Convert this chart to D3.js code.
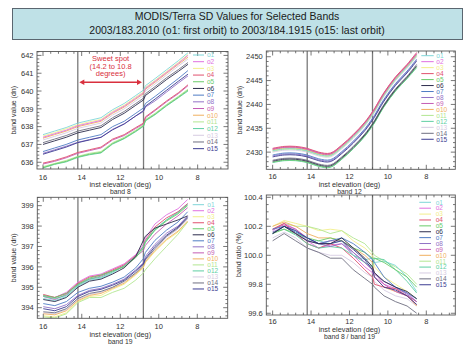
<!DOCTYPE html>
<html><head><meta charset="utf-8">
<script src="https://cdn.jsdelivr.net/npm/d3@7"></script>
<style>html,body{margin:0;padding:0;background:#fff;}svg{display:block;}</style>
</head><body>
<svg id="c" width="474" height="355"></svg>
<script>
// ---------- DATA ----------
const orbits = ["o1","o2","o3","o4","o5","o6","o7","o8","o9","o10","o11","o12","o13","o14","o15"];
const orbitColors = ["#7fd6d8","#e070e0","#f2ee8a","#e0506e","#6acb6a","#2c2c4c","#4f7cc4","#9272c6","#c45cb4","#f0b060","#b2e692","#5ecfa2","#d6cce2","#6e6e80","#3c3c92"];
const elev = [16, 15.4, 14.8, 14.2, 13.6, 13, 12.4, 11.8, 11.2, 10.8, 10.7, 10.2, 9.6, 9, 8.5];
const xTicks = [16, 14, 12, 10, 8];
const sweetSpot = [14.2, 10.8];

const band8 = [
 [637.55,637.75,637.95,638.2,638.35,638.5,638.95,639.3,639.75,640.05,640.3,640.7,641.2,641.7,642.15],
 [637.4,637.6,637.8,638.05,638.2,638.35,638.8,639.15,639.6,639.9,640.15,640.55,641.05,641.55,642.0],
 [637.47,637.66,637.88,638.1,638.27,638.4,638.86,639.2,639.66,639.95,640.2,640.6,641.1,641.6,642.05],
 [635.95,636.1,636.3,636.55,636.7,636.85,637.3,637.55,637.95,638.2,638.55,638.95,639.45,639.9,640.35],
 [635.7,635.9,636.05,636.3,636.45,636.55,637.05,637.35,637.75,638.05,638.35,638.7,639.2,639.65,640.05],
 [637.0,637.2,637.4,637.65,637.8,637.95,638.4,638.75,639.2,639.5,639.75,640.15,640.65,641.1,641.5],
 [636.6,636.8,637.0,637.25,637.4,637.55,638.0,638.3,638.75,639.05,639.3,639.7,640.2,640.7,641.15],
 [636.5,636.7,636.9,637.12,637.27,637.4,637.85,638.15,638.6,638.85,639.1,639.45,639.95,640.45,640.85],
 [635.9,636.05,636.25,636.5,636.65,636.8,637.25,637.5,637.9,638.15,638.5,638.9,639.4,639.85,640.3],
 [637.35,637.55,637.75,638.0,638.15,638.3,638.75,639.1,639.55,639.85,640.1,640.5,641.0,641.5,641.9],
 [635.75,635.93,636.1,636.33,636.5,636.6,637.1,637.4,637.8,638.1,638.4,638.75,639.25,639.7,640.1],
 [635.68,635.88,636.02,636.27,636.42,636.52,637.02,637.32,637.72,638.02,638.32,638.67,639.17,639.62,640.0],
 [637.25,637.45,637.65,637.9,638.05,638.2,638.65,639.0,639.45,639.75,640.0,640.4,640.9,641.4,641.8],
 [637.1,637.3,637.5,637.75,637.9,638.05,638.5,638.85,639.3,639.6,639.85,640.25,640.75,641.2,641.6],
 [636.45,636.65,636.85,637.1,637.25,637.4,637.82,638.15,638.6,638.9,639.15,639.55,640.05,640.55,640.95]
];
const band12 = [
 [2430.3,2430.7,2430.7,2430.3,2429.5,2429.3,2431.0,2433.2,2435.8,2438.0,2438.6,2442.0,2445.3,2447.9,2450.3],
 [2430.7,2431.1,2431.1,2430.7,2429.9,2429.7,2431.4,2433.6,2436.2,2438.4,2439.0,2442.4,2445.7,2448.3,2450.7],
 [2430.4,2430.8,2430.8,2430.4,2429.6,2429.4,2431.1,2433.3,2435.9,2438.1,2438.7,2442.1,2445.4,2448.0,2450.4],
 [2430.8,2431.2,2431.2,2430.8,2430.0,2429.8,2431.5,2433.7,2436.3,2438.5,2439.1,2442.5,2445.8,2448.4,2450.9],
 [2427.9,2428.3,2428.3,2427.9,2427.1,2426.9,2428.6,2430.8,2433.4,2435.6,2436.2,2439.6,2442.9,2445.5,2447.9],
 [2428.1,2428.5,2428.5,2428.1,2427.3,2427.1,2428.8,2431.0,2433.6,2435.8,2436.4,2439.8,2443.1,2445.7,2448.1],
 [2429.4,2429.8,2429.8,2429.4,2428.6,2428.4,2430.1,2432.3,2434.9,2437.1,2437.7,2441.1,2444.4,2447.0,2449.5],
 [2429.2,2429.6,2429.6,2429.2,2428.4,2428.2,2429.9,2432.1,2434.7,2436.9,2437.5,2440.9,2444.2,2446.8,2449.3],
 [2430.6,2431.0,2431.0,2430.6,2429.8,2429.6,2431.3,2433.5,2436.1,2438.3,2438.9,2442.3,2445.6,2448.2,2450.6],
 [2430.5,2430.9,2430.9,2430.5,2429.7,2429.5,2431.2,2433.4,2436.0,2438.2,2438.8,2442.2,2445.5,2448.1,2450.5],
 [2430.2,2430.6,2430.6,2430.2,2429.4,2429.2,2430.9,2433.1,2435.7,2437.9,2438.5,2441.9,2445.2,2447.8,2450.2],
 [2427.8,2428.2,2428.2,2427.8,2427.0,2426.8,2428.5,2430.7,2433.3,2435.5,2436.1,2439.5,2442.8,2445.4,2447.7],
 [2430.0,2430.4,2430.4,2430.0,2429.2,2429.0,2430.7,2432.9,2435.5,2437.7,2438.3,2441.7,2445.0,2447.6,2450.0],
 [2428.3,2428.7,2428.7,2428.3,2427.5,2427.3,2429.0,2431.2,2433.8,2436.0,2436.6,2440.0,2443.3,2445.9,2448.4],
 [2429.0,2429.4,2429.4,2429.0,2428.2,2428.0,2429.7,2431.9,2434.5,2436.7,2437.3,2440.7,2444.0,2446.6,2449.1]
];
const band19 = [
 [394.45,394.35,394.55,395.05,395.35,395.45,395.7,396.05,396.55,396.95,397.2,397.8,398.3,398.7,399.1],
 [394.6,394.5,394.75,395.25,395.55,395.65,395.9,396.15,396.6,397.1,397.4,398.1,398.55,398.85,399.3],
 [393.6,393.55,393.75,394.3,394.55,394.6,394.9,395.15,395.6,395.95,396.2,396.75,397.3,397.7,398.2],
 [394.65,394.5,394.7,395.2,395.5,395.6,395.85,396.1,396.55,397.0,397.3,397.95,398.4,398.7,399.1],
 [394.6,394.5,394.7,395.15,395.45,395.6,395.8,396.0,396.45,396.9,397.2,397.8,398.25,398.6,399.0],
 [394.4,394.3,394.5,395.0,395.3,395.4,395.65,395.95,396.5,397.3,397.5,397.9,398.1,398.3,398.5],
 [394.2,394.1,394.3,394.75,394.95,395.05,395.25,395.5,395.95,396.4,396.7,397.3,397.8,398.2,398.7],
 [394.05,393.95,394.15,394.6,394.85,394.95,395.15,395.4,395.85,396.2,396.5,397.1,397.65,398.0,398.5],
 [394.55,394.4,394.65,395.15,395.4,395.55,395.8,396.05,396.5,396.8,397.05,397.6,398.1,398.5,398.9],
 [393.7,393.65,393.85,394.35,394.6,394.7,394.95,395.2,395.65,396.0,396.25,396.8,397.35,397.75,398.25],
 [393.55,393.5,393.7,394.25,394.5,394.5,394.75,394.95,395.35,395.7,395.85,396.4,397.0,397.6,398.2],
 [394.55,394.45,394.6,395.1,395.4,395.5,395.75,396.05,396.5,397.0,397.25,397.85,398.3,398.65,399.05],
 [393.75,393.7,393.9,394.4,394.65,394.75,395.0,395.25,395.7,396.05,396.3,396.85,397.45,397.85,398.35],
 [393.8,393.75,393.95,394.45,394.7,394.8,395.0,395.3,395.7,396.1,396.35,396.9,397.5,397.9,398.4],
 [393.95,393.85,394.05,394.55,394.8,394.9,395.1,395.35,395.8,396.15,396.4,397.0,397.55,397.95,398.45]
];
const ratio = [
 [100.15,100.2,100.17,100.1,100.1,100.08,100.1,100.0,99.97,99.98,99.95,99.96,99.93,99.85,99.75],
 [100.17,100.22,100.18,100.1,100.05,100.07,100.08,100.0,99.92,99.88,99.85,99.8,99.77,99.74,99.68],
 [100.2,100.24,100.22,100.2,100.17,100.18,100.17,100.1,100.05,100.0,99.92,99.85,99.8,99.75,99.7],
 [100.18,100.22,100.15,100.08,100.05,100.08,100.05,99.98,99.9,99.85,99.8,99.78,99.77,99.72,99.68],
 [100.15,100.18,100.15,100.12,100.1,100.12,100.1,100.05,100.02,99.98,99.98,99.95,99.9,99.85,99.78],
 [100.15,100.2,100.15,100.1,100.08,100.08,100.12,100.05,99.98,99.92,99.88,99.82,99.78,99.75,99.7],
 [100.18,100.2,100.16,100.12,100.08,100.1,100.12,100.08,100.02,99.97,99.95,99.85,99.78,99.74,99.7],
 [100.16,100.2,100.15,100.1,100.08,100.06,100.08,100.02,99.95,99.9,99.87,99.82,99.78,99.73,99.68],
 [100.18,100.21,100.18,100.12,100.08,100.1,100.1,100.02,99.95,99.9,99.88,99.8,99.75,99.72,99.66],
 [100.2,100.23,100.2,100.15,100.12,100.12,100.1,100.05,100.0,99.95,99.85,99.78,99.75,99.72,99.65],
 [100.18,100.22,100.2,100.2,100.18,100.15,100.17,100.12,100.08,100.02,100.0,99.96,99.92,99.87,99.8],
 [100.16,100.18,100.14,100.08,100.05,100.06,100.05,100.0,99.95,99.92,99.98,99.97,99.9,99.82,99.74],
 [100.12,100.16,100.12,100.05,100.02,100.0,100.0,99.95,99.88,99.85,99.82,99.76,99.72,99.7,99.65],
 [100.1,100.15,100.1,100.05,100.02,99.98,99.98,99.9,99.84,99.8,99.78,99.72,99.68,99.65,99.6],
 [100.15,100.2,100.17,100.12,100.08,100.08,100.1,100.04,99.97,99.9,99.85,99.78,99.76,99.72,99.66]
];
const band8Ticks = [636,637,638,639,640,641,642];
const band12Ticks = [2430,2435,2440,2445,2450];
const band19Ticks = [394,395,396,397,398,399];
const ratioTicks = [99.6,99.8,100.0,100.2,100.4];

// ---------- LAYOUT ----------
const svg = d3.select("#c");
const FONT = "'Liberation Sans', Arial, Helvetica, sans-serif";
const AX = "#555";

// Title box
svg.append("rect").attr("x",12.5).attr("y",8.5).attr("width",450).attr("height",31)
  .attr("fill","#bfe1e7").attr("stroke","#5a6670").attr("stroke-width",1);
svg.append("text").attr("x",237).attr("y",20).attr("text-anchor","middle")
  .attr("font-family",FONT).attr("font-size",10.5).attr("fill","#1a1a1a")
  .text("MODIS/Terra SD Values for Selected Bands");
svg.append("text").attr("x",237).attr("y",33.5).attr("text-anchor","middle")
  .attr("font-family",FONT).attr("font-size",10.5).attr("fill","#1a1a1a")
  .text("2003/183.2010 (o1: first orbit) to 2003/184.1915 (o15: last orbit)");

const panels = [
 {data:band8, yTicks:band8Ticks, yFmt:d3.format("d"), yMinor:0.2, L:37, R:228, T:51.5, B:169,
  xd:[16.31,6.43], yd:[635.62,642.22], ylab:"band value (dn)", ylx:16, sub:"band 8",
  tl:10.5, xl:18, sl:25, lg:{x1:193,x2:204,tx:207,y0:55,dy:6.69}, curve:d3.curveLinear},
 {data:band12, yTicks:band12Ticks, yFmt:d3.format("d"), yMinor:1, L:266.3, R:455.3, T:51, B:169.3,
  xd:[16.33,6.49], yd:[2426.4,2451.2], ylab:"band value (dn)", ylx:242, sub:"band 12",
  tl:10, xl:17.5, sl:24.5, lg:{x1:421.3,x2:433.7,tx:436.3,y0:55.7,dy:5.97}, curve:d3.curveCatmullRom},
 {data:band19, yTicks:band19Ticks, yFmt:d3.format("d"), yMinor:0.2, L:37.3, R:227.7, T:197.3, B:318.3,
  xd:[16.31,6.42], yd:[393.48,399.41], ylab:"band value (dn)", ylx:16, sub:"band 19",
  tl:10.5, xl:18.5, sl:25.5, lg:{x1:192.7,x2:204,tx:207.3,y0:204.7,dy:6.02}, curve:d3.curveLinear},
 {data:ratio, yTicks:ratioTicks, yFmt:d3.format(".1f"), yMinor:0.05, L:266.3, R:455.3, T:195, B:315,
  xd:[16.33,6.49], yd:[99.588,100.416], ylab:"band ratio (%)", ylx:241, sub:"band 8 / band 19",
  tl:9, xl:16.5, sl:23.5, lg:{x1:419.3,x2:431,tx:435.7,y0:202.3,dy:5.89}, curve:d3.curveLinear}
];

panels.forEach((p,pi)=>{
  const x = d3.scaleLinear().domain(p.xd).range([p.L,p.R]);
  const y = d3.scaleLinear().domain(p.yd).range([p.B,p.T]);
  const g = svg.append("g");
  const cid = "clip"+pi;
  svg.append("clipPath").attr("id",cid).append("rect")
    .attr("x",p.L).attr("y",p.T).attr("width",p.R-p.L).attr("height",p.B-p.T);

  sweetSpot.forEach(v=>{
    g.append("line").attr("x1",x(v)).attr("x2",x(v)).attr("y1",p.T).attr("y2",p.B)
      .attr("stroke","#7a7a7a").attr("stroke-width",1.3);
  });

  const line = d3.line().x((d,i)=>x(elev[i])).y(d=>y(d)).curve(p.curve);
  const order = [12,2,10,0,9,1,8,3,11,4,7,6,13,14,5];
  const lg = g.append("g").attr("clip-path",`url(#${cid})`);
  order.forEach(k=>{
    lg.append("path").attr("d",line(p.data[k])).attr("fill","none")
      .attr("stroke",orbitColors[k]).attr("stroke-width",0.9);
  });

  g.append("rect").attr("x",p.L).attr("y",p.T).attr("width",p.R-p.L).attr("height",p.B-p.T)
    .attr("fill","none").attr("stroke",AX).attr("stroke-width",0.9);

  const xMinor = d3.range(6.4, 16.4001, 0.4).map(v=>+v.toFixed(2)).filter(v=>v>=Math.min(...p.xd)&&v<=Math.max(...p.xd));
  xMinor.forEach(v=>{
    const maj = xTicks.includes(Math.round(v*10)/10);
    const len = maj?4.5:2.3;
    g.append("line").attr("x1",x(v)).attr("x2",x(v)).attr("y1",p.B).attr("y2",p.B-len).attr("stroke",AX).attr("stroke-width",0.8);
    g.append("line").attr("x1",x(v)).attr("x2",x(v)).attr("y1",p.T).attr("y2",p.T+len).attr("stroke",AX).attr("stroke-width",0.8);
  });
  xTicks.forEach(v=>{
    g.append("text").attr("x",x(v)).attr("y",p.B+p.tl).attr("text-anchor","middle")
      .attr("font-family",FONT).attr("font-size",7.5).attr("fill","#333").text(v);
  });

  const yMinor = d3.range(Math.ceil(p.yd[0]/p.yMinor)*p.yMinor, p.yd[1], p.yMinor);
  yMinor.forEach(v=>{
    const maj = p.yTicks.some(t=>Math.abs(t-v)<p.yMinor/10);
    const len = maj?4.5:2.3;
    g.append("line").attr("x1",p.L).attr("x2",p.L+len).attr("y1",y(v)).attr("y2",y(v)).attr("stroke",AX).attr("stroke-width",0.8);
    g.append("line").attr("x1",p.R).attr("x2",p.R-len).attr("y1",y(v)).attr("y2",y(v)).attr("stroke",AX).attr("stroke-width",0.8);
  });
  p.yTicks.forEach(v=>{
    g.append("text").attr("x",p.L-3.5).attr("y",y(v)+2.7).attr("text-anchor","end")
      .attr("font-family",FONT).attr("font-size",7.5).attr("fill","#333").text(p.yFmt(v));
  });

  g.append("text").attr("x",x(12)).attr("y",p.B+p.xl).attr("text-anchor","middle")
    .attr("font-family",FONT).attr("font-size",7.3).attr("fill","#333").text("inst elevation (deg)");
  g.append("text").attr("x",x(12)).attr("y",p.B+p.sl).attr("text-anchor","middle")
    .attr("font-family",FONT).attr("font-size",6.8).attr("fill","#333").text(p.sub);
  g.append("text").attr("transform",`translate(${p.ylx},${(p.T+p.B)/2}) rotate(-90)`)
    .attr("text-anchor","middle").attr("font-family",FONT).attr("font-size",7).attr("fill","#333").text(p.ylab);

  orbits.forEach((o,k)=>{
    const yy = p.lg.y0 + k*p.lg.dy;
    g.append("line").attr("x1",p.lg.x1).attr("x2",p.lg.x2).attr("y1",yy).attr("y2",yy)
      .attr("stroke",orbitColors[k]).attr("stroke-width",1);
    g.append("text").attr("x",p.lg.tx).attr("y",yy+2.3).attr("font-family",FONT)
      .attr("font-size",6.5).attr("fill",orbitColors[k]).text(o);
  });

  if(pi===0){
    const red = "#d9303e";
    const mx = (x(sweetSpot[0])+x(sweetSpot[1]))/2;
    ["Sweet spot","(14.2 to 10.8","degrees)"].forEach((t,i)=>{
      g.append("text").attr("x",mx).attr("y",61+i*7.7).attr("text-anchor","middle")
        .attr("font-family",FONT).attr("font-size",7.5).attr("fill",red).text(t);
    });
    const ay = 82.3, x1 = x(sweetSpot[0])+1.5, x2 = x(sweetSpot[1])-1.5;
    g.append("line").attr("x1",x1+3).attr("x2",x2-3).attr("y1",ay).attr("y2",ay).attr("stroke",red).attr("stroke-width",1.4);
    g.append("path").attr("d",`M${x1},${ay} l5,-2.8 l0,5.6 Z`).attr("fill",red);
    g.append("path").attr("d",`M${x2},${ay} l-5,-2.8 l0,5.6 Z`).attr("fill",red);
  }
});
</script>
</body></html>
